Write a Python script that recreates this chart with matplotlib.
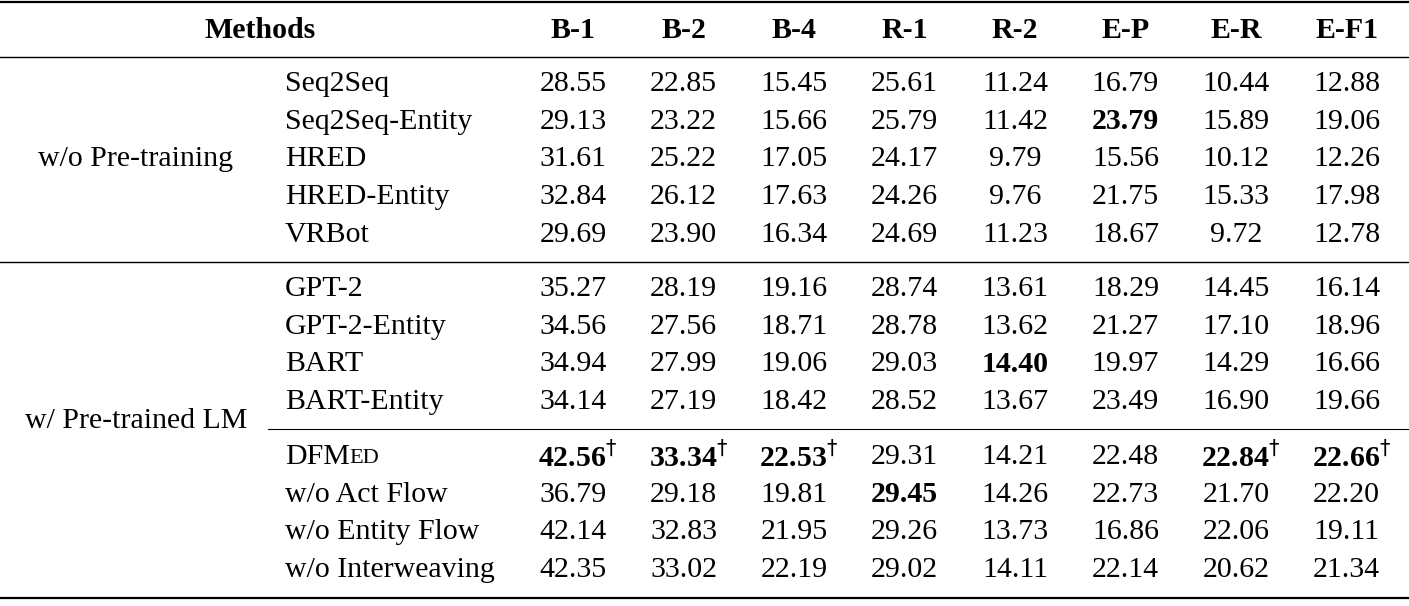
import matplotlib.pyplot as plt

plt.rcParams['font.family'] = ['Liberation Serif', 'DejaVu Serif']

columns = ["B-1", "B-2", "B-4", "R-1", "R-2", "E-P", "E-R", "E-F1"]
group1 = ["Seq2Seq", "Seq2Seq-Entity", "HRED", "HRED-Entity", "VRBot"]
values1 = [
    [28.55, 22.85, 15.45, 25.61, 11.24, 16.79, 10.44, 12.88],
    [29.13, 23.22, 15.66, 25.79, 11.42, 23.79, 15.89, 19.06],
    [31.61, 25.22, 17.05, 24.17, 9.79, 15.56, 10.12, 12.26],
    [32.84, 26.12, 17.63, 24.26, 9.76, 21.75, 15.33, 17.98],
    [29.69, 23.90, 16.34, 24.69, 11.23, 18.67, 9.72, 12.78],
]
group2a = ["GPT-2", "GPT-2-Entity", "BART", "BART-Entity"]
values2a = [
    [35.27, 28.19, 19.16, 28.74, 13.61, 18.29, 14.45, 16.14],
    [34.56, 27.56, 18.71, 28.78, 13.62, 21.27, 17.10, 18.96],
    [34.94, 27.99, 19.06, 29.03, 14.40, 19.97, 14.29, 16.66],
    [34.14, 27.19, 18.42, 28.52, 13.67, 23.49, 16.90, 19.66],
]
group2b = ["DFMED", "w/o Act Flow", "w/o Entity Flow", "w/o Interweaving"]
values2b = [
    [42.56, 33.34, 22.53, 29.31, 14.21, 22.48, 22.84, 22.66],
    [36.79, 29.18, 19.81, 29.45, 14.26, 22.73, 21.70, 22.20],
    [42.14, 32.83, 21.95, 29.26, 13.73, 16.86, 22.06, 19.11],
    [42.35, 33.02, 22.19, 29.02, 14.11, 22.14, 20.62, 21.34],
]
# (row name, column index) cells in bold; dagger marks
bold = {("Seq2Seq-Entity", 5), ("BART", 4), ("w/o Act Flow", 3),
        ("DFMED", 0), ("DFMED", 1), ("DFMED", 2), ("DFMED", 6), ("DFMED", 7)}
dagger = {("DFMED", 0), ("DFMED", 1), ("DFMED", 2), ("DFMED", 6), ("DFMED", 7)}

W, H = 1409, 606
fig = plt.figure(figsize=(W / 100, H / 100), dpi=100)
ax = fig.add_axes([0, 0, 1, 1])
ax.set_xlim(0, W)
ax.set_ylim(H, 0)
ax.axis('off')

fs = 21.5
col_x = [573 + i * 110.5 for i in range(len(columns))]
name_x = 285

ax.text(260, 30, "Methods", ha='center', va='center', fontsize=fs, fontweight='bold')
for x, c in zip(col_x, columns):
    ax.text(x, 30, c, ha='center', va='center', fontsize=fs, fontweight='bold')


def draw_rows(names, vals, y0, dy=37.7):
    for i, (n, row) in enumerate(zip(names, vals)):
        y = y0 + i * dy
        if n == "DFMED":
            t = ax.text(name_x, y, "DFM", ha='left', va='center', fontsize=fs)
            ax.annotate("ED", xycoords=t, xy=(1, 0.5), va='center', ha='left',
                        fontsize=fs * 0.75, xytext=(0, -1), textcoords='offset points')
        else:
            ax.text(name_x, y, n, ha='left', va='center', fontsize=fs)
        for j, v in enumerate(row):
            w = 'bold' if (n, j) in bold else 'normal'
            s = f"{v:.2f}"
            if (n, j) in dagger:
                s += r"$^{\dagger}$"
            ax.text(col_x[j] + (5 if (n, j) in dagger else 0), y, s, ha='center',
                    va='center', fontsize=fs, fontweight=w)


draw_rows(group1, values1, 84)
draw_rows(group2a, values2a, 289)
draw_rows(group2b, values2b, 457)

ax.text(136, 159, "w/o Pre-training", ha='center', va='center', fontsize=fs)
ax.text(136, 421, "w/ Pre-trained LM", ha='center', va='center', fontsize=fs)

ax.plot([0, W], [2, 2], color='black', lw=1.6)
ax.plot([0, W], [57, 57], color='black', lw=1.0)
ax.plot([0, W], [262, 262], color='black', lw=1.0)
ax.plot([268, W], [429, 429], color='black', lw=0.8)
ax.plot([0, W], [598, 598], color='black', lw=1.6)

fig.savefig("out.png", dpi=100)
